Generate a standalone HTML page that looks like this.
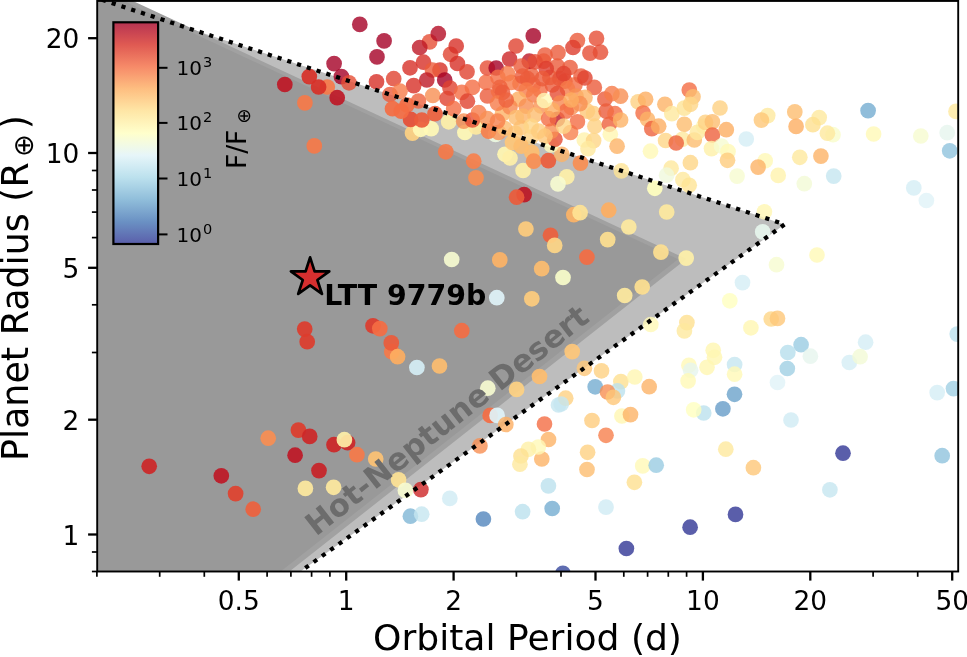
<!DOCTYPE html><html><head><meta charset="utf-8"><title>Hot-Neptune Desert</title>
<style>html,body{margin:0;padding:0;background:#fff;overflow:hidden}svg{display:block}text{font-family:"DejaVu Sans","Liberation Sans",sans-serif;fill:#000}</style></head><body>
<svg width="967" height="657" viewBox="0 0 967 657">
<defs><clipPath id="ax"><rect x="97.2" y="0.95" width="861.0" height="570.55"/></clipPath>
<linearGradient id="cb" x1="0" y1="1" x2="0" y2="0">
<stop offset="0.0" stop-color="#313695"/>
<stop offset="0.1" stop-color="#4575b4"/>
<stop offset="0.2" stop-color="#74add1"/>
<stop offset="0.3" stop-color="#abd9e9"/>
<stop offset="0.4" stop-color="#e0f3f8"/>
<stop offset="0.5" stop-color="#ffffbf"/>
<stop offset="0.6" stop-color="#fee090"/>
<stop offset="0.7" stop-color="#fdae61"/>
<stop offset="0.8" stop-color="#f46d43"/>
<stop offset="0.9" stop-color="#d73027"/>
<stop offset="1.0" stop-color="#a50026"/>
</linearGradient></defs>
<rect width="967" height="657" fill="#fff"/>
<g clip-path="url(#ax)">
<polygon points="92.2,-3.4 784.6,224.4 300.5,571.5 280.5,591.5 92.2,591.5" fill="#bdbdbd"/>
<polygon points="92.2,-18.0 686.3,258.9 289.4,571.5 269.4,591.5 92.2,591.5" fill="#a1a1a1"/>
<polygon points="92.2,-13.8 678.0,259.2 280.6,571.5 260.6,591.5 92.2,591.5" fill="#999999"/>
<g>
<circle cx="359.8" cy="24.4" r="7.85" fill="#a50026" fill-opacity="0.8"/>
<circle cx="384.1" cy="40.9" r="7.85" fill="#a50026" fill-opacity="0.8"/>
<circle cx="377.0" cy="56.9" r="7.85" fill="#a50026" fill-opacity="0.8"/>
<circle cx="334.1" cy="63.6" r="7.85" fill="#a50026" fill-opacity="0.8"/>
<circle cx="341.4" cy="76.6" r="7.85" fill="#a50026" fill-opacity="0.8"/>
<circle cx="284.8" cy="84.5" r="7.85" fill="#be1826" fill-opacity="0.92"/>
<circle cx="309.3" cy="76.6" r="7.85" fill="#d73027" fill-opacity="0.92"/>
<circle cx="327.3" cy="87.0" r="7.85" fill="#f67a49" fill-opacity="0.92"/>
<circle cx="318.6" cy="87.0" r="7.85" fill="#d73027" fill-opacity="0.92"/>
<circle cx="337.2" cy="97.7" r="7.85" fill="#be1826" fill-opacity="0.92"/>
<circle cx="304.9" cy="102.9" r="7.85" fill="#f67a49" fill-opacity="0.92"/>
<circle cx="349.0" cy="82.8" r="7.85" fill="#e64e35" fill-opacity="0.8"/>
<circle cx="376.5" cy="81.8" r="7.85" fill="#d73027" fill-opacity="0.8"/>
<circle cx="314.3" cy="145.9" r="7.85" fill="#f67a49" fill-opacity="0.92"/>
<circle cx="429.6" cy="41.9" r="7.85" fill="#e64e35" fill-opacity="0.8"/>
<circle cx="438.3" cy="33.7" r="7.85" fill="#b40e26" fill-opacity="0.8"/>
<circle cx="419.7" cy="47.5" r="7.85" fill="#be1826" fill-opacity="0.8"/>
<circle cx="450.6" cy="54.3" r="7.85" fill="#e0422f" fill-opacity="0.8"/>
<circle cx="456.2" cy="46.0" r="7.85" fill="#d73027" fill-opacity="0.8"/>
<circle cx="457.4" cy="63.5" r="7.85" fill="#d73027" fill-opacity="0.8"/>
<circle cx="467.0" cy="71.8" r="7.85" fill="#e0422f" fill-opacity="0.8"/>
<circle cx="410.0" cy="67.8" r="7.85" fill="#d73027" fill-opacity="0.8"/>
<circle cx="423.5" cy="62.2" r="7.85" fill="#d73027" fill-opacity="0.8"/>
<circle cx="440.0" cy="70.0" r="7.85" fill="#d73027" fill-opacity="0.8"/>
<circle cx="432.4" cy="70.0" r="7.85" fill="#eb5b3b" fill-opacity="0.8"/>
<circle cx="444.7" cy="80.0" r="7.85" fill="#a50026" fill-opacity="0.8"/>
<circle cx="426.8" cy="80.0" r="7.85" fill="#be1826" fill-opacity="0.8"/>
<circle cx="393.7" cy="78.7" r="7.85" fill="#e0422f" fill-opacity="0.8"/>
<circle cx="413.7" cy="85.6" r="7.85" fill="#d73027" fill-opacity="0.8"/>
<circle cx="432.8" cy="95.5" r="7.85" fill="#f88e52" fill-opacity="0.8"/>
<circle cx="450.0" cy="88.0" r="7.85" fill="#e0422f" fill-opacity="0.8"/>
<circle cx="472.4" cy="87.4" r="7.85" fill="#f46d43" fill-opacity="0.8"/>
<circle cx="486.1" cy="82.4" r="7.85" fill="#f46d43" fill-opacity="0.8"/>
<circle cx="487.4" cy="68.0" r="7.85" fill="#e64e35" fill-opacity="0.8"/>
<circle cx="496.2" cy="68.0" r="7.85" fill="#a50026" fill-opacity="0.8"/>
<circle cx="461.8" cy="92.4" r="7.85" fill="#f46d43" fill-opacity="0.8"/>
<circle cx="487.4" cy="96.0" r="7.85" fill="#eb5b3b" fill-opacity="0.8"/>
<circle cx="447.2" cy="98.5" r="7.85" fill="#e0422f" fill-opacity="0.8"/>
<circle cx="467.4" cy="101.2" r="7.85" fill="#e0422f" fill-opacity="0.8"/>
<circle cx="390.0" cy="94.5" r="7.85" fill="#eb5b3b" fill-opacity="0.8"/>
<circle cx="400.0" cy="91.2" r="7.85" fill="#f67a49" fill-opacity="0.8"/>
<circle cx="418.5" cy="101.0" r="7.85" fill="#ee613d" fill-opacity="0.8"/>
<circle cx="498.0" cy="77.4" r="7.85" fill="#f46d43" fill-opacity="0.8"/>
<circle cx="498.6" cy="91.2" r="7.85" fill="#f46d43" fill-opacity="0.8"/>
<circle cx="495.5" cy="134.5" r="7.85" fill="#ecf8e1" fill-opacity="0.92"/>
<circle cx="407.0" cy="105.0" r="7.85" fill="#f46d43" fill-opacity="0.92"/>
<circle cx="412.5" cy="133.1" r="7.85" fill="#fed182" fill-opacity="0.92"/>
<circle cx="420.6" cy="129.3" r="7.85" fill="#fff9b6" fill-opacity="0.92"/>
<circle cx="431.2" cy="128.7" r="7.85" fill="#fff9b6" fill-opacity="0.92"/>
<circle cx="448.7" cy="121.8" r="7.85" fill="#fef0a8" fill-opacity="0.92"/>
<circle cx="464.9" cy="132.5" r="7.85" fill="#fff9b6" fill-opacity="0.92"/>
<circle cx="445.8" cy="151.8" r="7.85" fill="#f67a49" fill-opacity="0.92"/>
<circle cx="473.7" cy="161.2" r="7.85" fill="#f7804c" fill-opacity="0.92"/>
<circle cx="476.0" cy="177.8" r="7.85" fill="#f88e52" fill-opacity="0.92"/>
<circle cx="410.6" cy="119.4" r="7.85" fill="#e64e35" fill-opacity="0.92"/>
<circle cx="421.8" cy="120.0" r="7.85" fill="#eb5b3b" fill-opacity="0.92"/>
<circle cx="435.0" cy="113.7" r="7.85" fill="#ee613d" fill-opacity="0.92"/>
<circle cx="392.5" cy="108.7" r="7.85" fill="#f46d43" fill-opacity="0.92"/>
<circle cx="401.2" cy="111.2" r="7.85" fill="#f46d43" fill-opacity="0.92"/>
<circle cx="453.7" cy="108.7" r="7.85" fill="#f46d43" fill-opacity="0.8"/>
<circle cx="476.0" cy="127.0" r="7.85" fill="#fee99e" fill-opacity="0.92"/>
<circle cx="463.7" cy="121.2" r="7.85" fill="#f88e52" fill-opacity="0.8"/>
<circle cx="472.4" cy="120.0" r="7.85" fill="#e64e35" fill-opacity="0.8"/>
<circle cx="478.7" cy="112.5" r="7.85" fill="#f67a49" fill-opacity="0.8"/>
<circle cx="488.6" cy="131.2" r="7.85" fill="#f7804c" fill-opacity="0.92"/>
<circle cx="487.4" cy="118.7" r="7.85" fill="#f88e52" fill-opacity="0.8"/>
<circle cx="498.6" cy="132.5" r="7.85" fill="#f88e52" fill-opacity="0.8"/>
<circle cx="531.2" cy="74.9" r="7.85" fill="#ee613d" fill-opacity="0.8"/>
<circle cx="533.1" cy="84.9" r="7.85" fill="#f46d43" fill-opacity="0.8"/>
<circle cx="520.0" cy="83.7" r="7.85" fill="#f46d43" fill-opacity="0.8"/>
<circle cx="564.9" cy="81.2" r="7.85" fill="#eb5b3b" fill-opacity="0.8"/>
<circle cx="543.7" cy="61.2" r="7.85" fill="#e85538" fill-opacity="0.8"/>
<circle cx="549.9" cy="77.4" r="7.85" fill="#eb5b3b" fill-opacity="0.8"/>
<circle cx="559.9" cy="78.7" r="7.85" fill="#e64e35" fill-opacity="0.8"/>
<circle cx="511.2" cy="82.4" r="7.85" fill="#f67a49" fill-opacity="0.8"/>
<circle cx="540.0" cy="89.9" r="7.85" fill="#f46d43" fill-opacity="0.8"/>
<circle cx="574.9" cy="84.9" r="7.85" fill="#f46d43" fill-opacity="0.8"/>
<circle cx="527.5" cy="78.7" r="7.85" fill="#eb5b3b" fill-opacity="0.8"/>
<circle cx="500.0" cy="87.4" r="7.85" fill="#ee613d" fill-opacity="0.8"/>
<circle cx="533.3" cy="35.9" r="7.85" fill="#a50026" fill-opacity="0.8"/>
<circle cx="516.0" cy="46.0" r="7.85" fill="#e0422f" fill-opacity="0.8"/>
<circle cx="509.6" cy="59.1" r="7.85" fill="#cd2627" fill-opacity="0.8"/>
<circle cx="577.4" cy="40.6" r="7.85" fill="#eb5b3b" fill-opacity="0.8"/>
<circle cx="573.0" cy="47.5" r="7.85" fill="#dd3c2d" fill-opacity="0.8"/>
<circle cx="596.5" cy="38.4" r="7.85" fill="#e64e35" fill-opacity="0.8"/>
<circle cx="600.5" cy="52.2" r="7.85" fill="#e64e35" fill-opacity="0.8"/>
<circle cx="589.9" cy="53.1" r="7.85" fill="#e64e35" fill-opacity="0.8"/>
<circle cx="558.0" cy="52.7" r="7.85" fill="#eb5b3b" fill-opacity="0.8"/>
<circle cx="545.0" cy="55.0" r="7.85" fill="#eb5b3b" fill-opacity="0.8"/>
<circle cx="529.3" cy="61.2" r="7.85" fill="#be1826" fill-opacity="0.8"/>
<circle cx="535.0" cy="61.8" r="7.85" fill="#e64e35" fill-opacity="0.8"/>
<circle cx="521.2" cy="66.2" r="7.85" fill="#eb5b3b" fill-opacity="0.8"/>
<circle cx="557.4" cy="66.2" r="7.85" fill="#eb5b3b" fill-opacity="0.8"/>
<circle cx="546.2" cy="68.7" r="7.85" fill="#dd3c2d" fill-opacity="0.8"/>
<circle cx="570.0" cy="67.5" r="7.85" fill="#eb5b3b" fill-opacity="0.8"/>
<circle cx="563.7" cy="73.7" r="7.85" fill="#e0422f" fill-opacity="0.8"/>
<circle cx="581.0" cy="76.0" r="7.85" fill="#eb5b3b" fill-opacity="0.8"/>
<circle cx="584.9" cy="78.0" r="7.85" fill="#e0422f" fill-opacity="0.8"/>
<circle cx="594.3" cy="87.4" r="7.85" fill="#eb5b3b" fill-opacity="0.8"/>
<circle cx="507.5" cy="73.7" r="7.85" fill="#f67a49" fill-opacity="0.8"/>
<circle cx="522.5" cy="76.2" r="7.85" fill="#eb5b3b" fill-opacity="0.8"/>
<circle cx="542.4" cy="78.7" r="7.85" fill="#eb5b3b" fill-opacity="0.8"/>
<circle cx="552.4" cy="85.0" r="7.85" fill="#eb5b3b" fill-opacity="0.8"/>
<circle cx="567.4" cy="88.7" r="7.85" fill="#f67a49" fill-opacity="0.8"/>
<circle cx="526.2" cy="90.0" r="7.85" fill="#f67a49" fill-opacity="0.8"/>
<circle cx="502.5" cy="92.4" r="7.85" fill="#eb5b3b" fill-opacity="0.8"/>
<circle cx="518.7" cy="99.0" r="7.85" fill="#fdae61" fill-opacity="0.8"/>
<circle cx="557.4" cy="93.7" r="7.85" fill="#e64e35" fill-opacity="0.8"/>
<circle cx="576.0" cy="96.0" r="7.85" fill="#f88e52" fill-opacity="0.8"/>
<circle cx="585.0" cy="97.4" r="7.85" fill="#fdb366" fill-opacity="0.8"/>
<circle cx="604.9" cy="99.0" r="7.85" fill="#eb5b3b" fill-opacity="0.8"/>
<circle cx="533.7" cy="95.0" r="7.85" fill="#f67a49" fill-opacity="0.8"/>
<circle cx="502.5" cy="113.7" r="7.85" fill="#fdb366" fill-opacity="0.8"/>
<circle cx="521.2" cy="127.5" r="7.85" fill="#fec778" fill-opacity="0.8"/>
<circle cx="526.2" cy="106.2" r="7.85" fill="#f88e52" fill-opacity="0.8"/>
<circle cx="515.0" cy="133.0" r="7.85" fill="#fec778" fill-opacity="0.8"/>
<circle cx="531.2" cy="137.0" r="7.85" fill="#fed182" fill-opacity="0.8"/>
<circle cx="571.2" cy="107.5" r="7.85" fill="#f88e52" fill-opacity="0.8"/>
<circle cx="587.4" cy="111.2" r="7.85" fill="#fec778" fill-opacity="0.8"/>
<circle cx="510.0" cy="107.0" r="7.85" fill="#f8874f" fill-opacity="0.8"/>
<circle cx="541.0" cy="106.0" r="7.85" fill="#f99455" fill-opacity="0.8"/>
<circle cx="560.0" cy="103.0" r="7.85" fill="#f8874f" fill-opacity="0.8"/>
<circle cx="523.0" cy="116.0" r="7.85" fill="#fdb366" fill-opacity="0.8"/>
<circle cx="505.0" cy="154.3" r="7.85" fill="#fff6b1" fill-opacity="0.92"/>
<circle cx="510.0" cy="158.0" r="7.85" fill="#fef0a8" fill-opacity="0.92"/>
<circle cx="523.1" cy="170.5" r="7.85" fill="#fef0a8" fill-opacity="0.92"/>
<circle cx="531.8" cy="152.4" r="7.85" fill="#fdbd6f" fill-opacity="0.92"/>
<circle cx="533.7" cy="161.2" r="7.85" fill="#f88e52" fill-opacity="0.92"/>
<circle cx="548.4" cy="160.6" r="7.85" fill="#eb5b3b" fill-opacity="0.92"/>
<circle cx="561.8" cy="154.3" r="7.85" fill="#fdb366" fill-opacity="0.8"/>
<circle cx="580.5" cy="163.1" r="7.85" fill="#f88e52" fill-opacity="0.92"/>
<circle cx="566.8" cy="176.8" r="7.85" fill="#fef0a8" fill-opacity="0.92"/>
<circle cx="551.2" cy="145.0" r="7.85" fill="#fff9b6" fill-opacity="0.8"/>
<circle cx="554.9" cy="139.3" r="7.85" fill="#e64e35" fill-opacity="0.8"/>
<circle cx="557.4" cy="119.3" r="7.85" fill="#be1826" fill-opacity="0.8"/>
<circle cx="570.5" cy="132.5" r="7.85" fill="#f7804c" fill-opacity="0.8"/>
<circle cx="577.4" cy="121.8" r="7.85" fill="#f46d43" fill-opacity="0.8"/>
<circle cx="566.2" cy="111.2" r="7.85" fill="#f46d43" fill-opacity="0.8"/>
<circle cx="551.2" cy="131.2" r="7.85" fill="#f88e52" fill-opacity="0.8"/>
<circle cx="535.0" cy="115.0" r="7.85" fill="#fdbd6f" fill-opacity="0.8"/>
<circle cx="531.2" cy="126.2" r="7.85" fill="#fed687" fill-opacity="0.8"/>
<circle cx="538.7" cy="131.2" r="7.85" fill="#fecc7d" fill-opacity="0.8"/>
<circle cx="516.2" cy="117.5" r="7.85" fill="#fdbd6f" fill-opacity="0.8"/>
<circle cx="505.0" cy="128.7" r="7.85" fill="#fdbd6f" fill-opacity="0.8"/>
<circle cx="497.5" cy="121.2" r="7.85" fill="#f7804c" fill-opacity="0.8"/>
<circle cx="497.5" cy="103.2" r="7.85" fill="#f67a49" fill-opacity="0.8"/>
<circle cx="506.2" cy="100.0" r="7.85" fill="#ee613d" fill-opacity="0.8"/>
<circle cx="512.5" cy="142.5" r="7.85" fill="#fec778" fill-opacity="0.92"/>
<circle cx="521.2" cy="146.2" r="7.85" fill="#fdbd6f" fill-opacity="0.92"/>
<circle cx="593.6" cy="113.7" r="7.85" fill="#fecc7d" fill-opacity="0.8"/>
<circle cx="594.9" cy="126.2" r="7.85" fill="#fed182" fill-opacity="0.8"/>
<circle cx="584.3" cy="140.0" r="7.85" fill="#fff3ac" fill-opacity="0.8"/>
<circle cx="593.6" cy="140.6" r="7.85" fill="#fed687" fill-opacity="0.8"/>
<circle cx="588.0" cy="148.7" r="7.85" fill="#fee99e" fill-opacity="0.8"/>
<circle cx="579.9" cy="103.7" r="7.85" fill="#f88e52" fill-opacity="0.8"/>
<circle cx="571.2" cy="100.0" r="7.85" fill="#fdae61" fill-opacity="0.8"/>
<circle cx="548.7" cy="118.7" r="7.85" fill="#f46d43" fill-opacity="0.8"/>
<circle cx="552.4" cy="110.0" r="7.85" fill="#fdae61" fill-opacity="0.8"/>
<circle cx="545.0" cy="136.2" r="7.85" fill="#fec778" fill-opacity="0.8"/>
<circle cx="563.7" cy="126.2" r="7.85" fill="#fed687" fill-opacity="0.8"/>
<circle cx="544.3" cy="100.5" r="7.85" fill="#fff9b6" fill-opacity="0.8"/>
<circle cx="611.9" cy="93.7" r="7.85" fill="#f67a49" fill-opacity="0.8"/>
<circle cx="620.6" cy="96.2" r="7.85" fill="#f88e52" fill-opacity="0.8"/>
<circle cx="606.2" cy="111.2" r="7.85" fill="#eb5b3b" fill-opacity="0.8"/>
<circle cx="615.0" cy="113.7" r="7.85" fill="#f46d43" fill-opacity="0.8"/>
<circle cx="609.4" cy="124.3" r="7.85" fill="#ee613d" fill-opacity="0.8"/>
<circle cx="620.6" cy="120.0" r="7.85" fill="#fdb366" fill-opacity="0.8"/>
<circle cx="610.3" cy="134.2" r="7.85" fill="#fff6b1" fill-opacity="0.8"/>
<circle cx="617.1" cy="146.2" r="7.85" fill="#fdb366" fill-opacity="0.8"/>
<circle cx="638.1" cy="101.8" r="7.85" fill="#fed182" fill-opacity="0.8"/>
<circle cx="645.6" cy="99.3" r="7.85" fill="#fdae61" fill-opacity="0.8"/>
<circle cx="643.1" cy="113.1" r="7.85" fill="#f46d43" fill-opacity="0.8"/>
<circle cx="647.5" cy="119.3" r="7.85" fill="#fdb366" fill-opacity="0.8"/>
<circle cx="651.8" cy="128.7" r="7.85" fill="#ee613d" fill-opacity="0.8"/>
<circle cx="658.7" cy="126.2" r="7.85" fill="#fdae61" fill-opacity="0.8"/>
<circle cx="664.9" cy="104.3" r="7.85" fill="#fdb366" fill-opacity="0.8"/>
<circle cx="671.8" cy="113.7" r="7.85" fill="#fee99e" fill-opacity="0.8"/>
<circle cx="689.3" cy="90.0" r="7.85" fill="#f46d43" fill-opacity="0.8"/>
<circle cx="693.0" cy="96.8" r="7.85" fill="#fdbd6f" fill-opacity="0.8"/>
<circle cx="684.3" cy="108.1" r="7.85" fill="#fee395" fill-opacity="0.8"/>
<circle cx="690.5" cy="104.3" r="7.85" fill="#fed687" fill-opacity="0.8"/>
<circle cx="684.3" cy="124.3" r="7.85" fill="#fdbd6f" fill-opacity="0.8"/>
<circle cx="665.6" cy="140.5" r="7.85" fill="#fed687" fill-opacity="0.8"/>
<circle cx="682.4" cy="139.3" r="7.85" fill="#fee99e" fill-opacity="0.8"/>
<circle cx="676.2" cy="143.0" r="7.85" fill="#ee613d" fill-opacity="0.8"/>
<circle cx="694.3" cy="140.0" r="7.85" fill="#fdbd6f" fill-opacity="0.8"/>
<circle cx="703.6" cy="126.2" r="7.85" fill="#fff9b6" fill-opacity="0.8"/>
<circle cx="697.4" cy="132.4" r="7.85" fill="#fee99e" fill-opacity="0.8"/>
<circle cx="705.5" cy="122.4" r="7.85" fill="#fed182" fill-opacity="0.8"/>
<circle cx="712.4" cy="121.8" r="7.85" fill="#fdbd6f" fill-opacity="0.8"/>
<circle cx="712.4" cy="135.0" r="7.85" fill="#ee613d" fill-opacity="0.8"/>
<circle cx="720.0" cy="108.0" r="7.85" fill="#fed182" fill-opacity="0.8"/>
<circle cx="650.5" cy="151.2" r="7.85" fill="#fff9b6" fill-opacity="0.8"/>
<circle cx="711.5" cy="148.6" r="7.85" fill="#fef0a8" fill-opacity="0.8"/>
<circle cx="721.5" cy="146.0" r="7.85" fill="#f6fbd0" fill-opacity="0.8"/>
<circle cx="868.1" cy="110.6" r="7.85" fill="#74add1" fill-opacity="0.8"/>
<circle cx="873.6" cy="134.0" r="7.85" fill="#fff9b6" fill-opacity="0.8"/>
<circle cx="920.8" cy="136.0" r="7.85" fill="#f6fbd0" fill-opacity="0.8"/>
<circle cx="947.2" cy="132.7" r="7.85" fill="#e6f5ed" fill-opacity="0.8"/>
<circle cx="949.7" cy="150.8" r="7.85" fill="#90c3dd" fill-opacity="0.8"/>
<circle cx="956.0" cy="111.4" r="7.85" fill="#fee99e" fill-opacity="0.8"/>
<circle cx="913.8" cy="187.9" r="7.85" fill="#d5eef5" fill-opacity="0.8"/>
<circle cx="926.4" cy="200.5" r="7.85" fill="#e0f3f8" fill-opacity="0.8"/>
<circle cx="794.8" cy="111.9" r="7.85" fill="#fdbd6f" fill-opacity="0.8"/>
<circle cx="796.1" cy="126.4" r="7.85" fill="#fdae61" fill-opacity="0.8"/>
<circle cx="819.2" cy="117.6" r="7.85" fill="#fee99e" fill-opacity="0.8"/>
<circle cx="812.9" cy="124.7" r="7.85" fill="#fee090" fill-opacity="0.8"/>
<circle cx="833.0" cy="134.7" r="7.85" fill="#f9fdca" fill-opacity="0.8"/>
<circle cx="827.4" cy="133.2" r="7.85" fill="#fee99e" fill-opacity="0.8"/>
<circle cx="767.7" cy="115.6" r="7.85" fill="#fee99e" fill-opacity="0.8"/>
<circle cx="761.4" cy="120.1" r="7.85" fill="#fec778" fill-opacity="0.8"/>
<circle cx="746.3" cy="139.0" r="7.85" fill="#d5eef5" fill-opacity="0.8"/>
<circle cx="726.3" cy="129.7" r="7.85" fill="#fdae61" fill-opacity="0.8"/>
<circle cx="728.0" cy="151.5" r="7.85" fill="#fff9b6" fill-opacity="0.8"/>
<circle cx="727.5" cy="160.3" r="7.85" fill="#fecc7d" fill-opacity="0.8"/>
<circle cx="765.2" cy="160.8" r="7.85" fill="#fff9b6" fill-opacity="0.8"/>
<circle cx="758.1" cy="167.1" r="7.85" fill="#fdb366" fill-opacity="0.8"/>
<circle cx="737.1" cy="176.1" r="7.85" fill="#f6fbd0" fill-opacity="0.8"/>
<circle cx="778.2" cy="175.4" r="7.85" fill="#fff3ac" fill-opacity="0.8"/>
<circle cx="799.8" cy="157.3" r="7.85" fill="#fee99e" fill-opacity="0.8"/>
<circle cx="820.9" cy="156.1" r="7.85" fill="#fdb366" fill-opacity="0.8"/>
<circle cx="804.3" cy="183.7" r="7.85" fill="#f3fad6" fill-opacity="0.8"/>
<circle cx="833.7" cy="176.1" r="7.85" fill="#c6e6f0" fill-opacity="0.8"/>
<circle cx="764.4" cy="211.8" r="7.85" fill="#fff6b1" fill-opacity="0.8"/>
<circle cx="762.7" cy="231.9" r="7.85" fill="#e6f5ed" fill-opacity="0.92"/>
<circle cx="817.0" cy="255.0" r="7.85" fill="#fff9b6" fill-opacity="0.8"/>
<circle cx="690.4" cy="162.7" r="7.85" fill="#fed687" fill-opacity="0.8"/>
<circle cx="682.9" cy="179.7" r="7.85" fill="#fee99e" fill-opacity="0.8"/>
<circle cx="689.2" cy="185.3" r="7.85" fill="#fee395" fill-opacity="0.8"/>
<circle cx="671.1" cy="168.2" r="7.85" fill="#fee99e" fill-opacity="0.8"/>
<circle cx="666.6" cy="175.2" r="7.85" fill="#f0f9dc" fill-opacity="0.8"/>
<circle cx="654.8" cy="188.3" r="7.85" fill="#ffffbf" fill-opacity="0.92"/>
<circle cx="621.4" cy="170.9" r="7.85" fill="#fee395" fill-opacity="0.8"/>
<circle cx="558.0" cy="183.9" r="7.85" fill="#f6fbd0" fill-opacity="0.92"/>
<circle cx="524.1" cy="194.6" r="7.85" fill="#be1826" fill-opacity="0.92"/>
<circle cx="516.6" cy="197.2" r="7.85" fill="#eb5b3b" fill-opacity="0.92"/>
<circle cx="573.8" cy="214.7" r="7.85" fill="#fdb366" fill-opacity="0.92"/>
<circle cx="580.1" cy="212.7" r="7.85" fill="#fee395" fill-opacity="0.92"/>
<circle cx="608.7" cy="210.2" r="7.85" fill="#fdae61" fill-opacity="0.92"/>
<circle cx="628.8" cy="227.0" r="7.85" fill="#fee99e" fill-opacity="0.92"/>
<circle cx="607.7" cy="239.6" r="7.85" fill="#fee090" fill-opacity="0.92"/>
<circle cx="660.9" cy="252.1" r="7.85" fill="#fee090" fill-opacity="0.92"/>
<circle cx="686.2" cy="258.1" r="7.85" fill="#fef0a8" fill-opacity="0.92"/>
<circle cx="666.7" cy="212.0" r="7.85" fill="#fee99e" fill-opacity="0.92"/>
<circle cx="525.9" cy="229.0" r="7.85" fill="#fecc7d" fill-opacity="0.92"/>
<circle cx="550.5" cy="235.3" r="7.85" fill="#ee613d" fill-opacity="0.92"/>
<circle cx="554.7" cy="245.4" r="7.85" fill="#fed687" fill-opacity="0.92"/>
<circle cx="586.9" cy="257.2" r="7.85" fill="#f46d43" fill-opacity="0.92"/>
<circle cx="499.8" cy="259.9" r="7.85" fill="#fdb366" fill-opacity="0.92"/>
<circle cx="451.7" cy="259.5" r="7.85" fill="#f6fbd0" fill-opacity="0.92"/>
<circle cx="541.7" cy="268.7" r="7.85" fill="#fdbd6f" fill-opacity="0.92"/>
<circle cx="563.0" cy="277.5" r="7.85" fill="#f9fdca" fill-opacity="0.92"/>
<circle cx="496.8" cy="297.7" r="7.85" fill="#e0f3f8" fill-opacity="0.92"/>
<circle cx="531.8" cy="298.8" r="7.85" fill="#fecc7d" fill-opacity="0.92"/>
<circle cx="624.7" cy="295.5" r="7.85" fill="#fee99e" fill-opacity="0.92"/>
<circle cx="642.2" cy="287.0" r="7.85" fill="#fee090" fill-opacity="0.92"/>
<circle cx="650.8" cy="324.5" r="7.85" fill="#fff9b6" fill-opacity="0.8"/>
<circle cx="304.7" cy="329.1" r="7.85" fill="#dd3c2d" fill-opacity="0.92"/>
<circle cx="307.2" cy="341.7" r="7.85" fill="#dd3c2d" fill-opacity="0.92"/>
<circle cx="373.0" cy="325.8" r="7.85" fill="#dd3c2d" fill-opacity="0.92"/>
<circle cx="379.8" cy="328.6" r="7.85" fill="#f46d43" fill-opacity="0.92"/>
<circle cx="391.8" cy="351.7" r="7.85" fill="#f67a49" fill-opacity="0.92"/>
<circle cx="391.3" cy="342.9" r="7.85" fill="#eb5b3b" fill-opacity="0.92"/>
<circle cx="397.6" cy="356.7" r="7.85" fill="#fdae61" fill-opacity="0.92"/>
<circle cx="416.9" cy="367.5" r="7.85" fill="#d5eef5" fill-opacity="0.92"/>
<circle cx="439.5" cy="366.0" r="7.85" fill="#fdbd6f" fill-opacity="0.92"/>
<circle cx="461.8" cy="330.7" r="7.85" fill="#f46d43" fill-opacity="0.92"/>
<circle cx="487.8" cy="388.2" r="7.85" fill="#f6fbd0" fill-opacity="0.92"/>
<circle cx="516.6" cy="389.4" r="7.85" fill="#fed182" fill-opacity="0.92"/>
<circle cx="149.2" cy="466.3" r="7.85" fill="#cd2627" fill-opacity="0.92"/>
<circle cx="221.3" cy="475.8" r="7.85" fill="#be1826" fill-opacity="0.92"/>
<circle cx="235.6" cy="493.6" r="7.85" fill="#e0422f" fill-opacity="0.92"/>
<circle cx="253.2" cy="509.2" r="7.85" fill="#ee613d" fill-opacity="0.92"/>
<circle cx="268.2" cy="438.2" r="7.85" fill="#f88e52" fill-opacity="0.92"/>
<circle cx="298.4" cy="430.1" r="7.85" fill="#dd3c2d" fill-opacity="0.92"/>
<circle cx="309.7" cy="436.4" r="7.85" fill="#cd2627" fill-opacity="0.92"/>
<circle cx="295.1" cy="455.2" r="7.85" fill="#be1826" fill-opacity="0.92"/>
<circle cx="334.0" cy="444.7" r="7.85" fill="#cd2627" fill-opacity="0.92"/>
<circle cx="319.0" cy="470.6" r="7.85" fill="#c82227" fill-opacity="0.92"/>
<circle cx="305.4" cy="488.4" r="7.85" fill="#fee99e" fill-opacity="0.92"/>
<circle cx="333.6" cy="487.3" r="7.85" fill="#fee99e" fill-opacity="0.92"/>
<circle cx="347.6" cy="442.7" r="7.85" fill="#cd2627" fill-opacity="0.92"/>
<circle cx="344.4" cy="439.7" r="7.85" fill="#fef0a8" fill-opacity="0.92"/>
<circle cx="356.9" cy="454.7" r="7.85" fill="#f67a49" fill-opacity="0.92"/>
<circle cx="375.7" cy="459.0" r="7.85" fill="#fdc274" fill-opacity="0.92"/>
<circle cx="398.6" cy="479.8" r="7.85" fill="#fee395" fill-opacity="0.92"/>
<circle cx="405.4" cy="490.4" r="7.85" fill="#f6fbd0" fill-opacity="0.92"/>
<circle cx="420.9" cy="489.6" r="7.85" fill="#cd2627" fill-opacity="0.8"/>
<circle cx="410.4" cy="516.2" r="7.85" fill="#7fb6d6" fill-opacity="0.8"/>
<circle cx="421.7" cy="514.2" r="7.85" fill="#c6e6f0" fill-opacity="0.8"/>
<circle cx="449.8" cy="498.4" r="7.85" fill="#d0ebf4" fill-opacity="0.8"/>
<circle cx="483.4" cy="519.0" r="7.85" fill="#5386bd" fill-opacity="0.8"/>
<circle cx="522.6" cy="511.7" r="7.85" fill="#bbe1ee" fill-opacity="0.8"/>
<circle cx="552.2" cy="508.5" r="7.85" fill="#74add1" fill-opacity="0.8"/>
<circle cx="548.4" cy="485.9" r="7.85" fill="#bbe1ee" fill-opacity="0.8"/>
<circle cx="490.2" cy="415.4" r="7.85" fill="#f46d43" fill-opacity="0.92"/>
<circle cx="497.1" cy="415.4" r="7.85" fill="#e0f3f8" fill-opacity="0.92"/>
<circle cx="505.8" cy="424.5" r="7.85" fill="#fdae61" fill-opacity="0.8"/>
<circle cx="479.9" cy="445.9" r="7.85" fill="#f88e52" fill-opacity="0.8"/>
<circle cx="544.5" cy="424.0" r="7.85" fill="#f46d43" fill-opacity="0.8"/>
<circle cx="548.5" cy="439.5" r="7.85" fill="#fdb366" fill-opacity="0.8"/>
<circle cx="541.8" cy="459.0" r="7.85" fill="#fdb366" fill-opacity="0.8"/>
<circle cx="538.3" cy="447.0" r="7.85" fill="#fff9b6" fill-opacity="0.8"/>
<circle cx="528.4" cy="449.3" r="7.85" fill="#fef0a8" fill-opacity="0.8"/>
<circle cx="520.9" cy="456.0" r="7.85" fill="#fee090" fill-opacity="0.8"/>
<circle cx="519.9" cy="464.2" r="7.85" fill="#fee99e" fill-opacity="0.8"/>
<circle cx="558.5" cy="405.0" r="7.85" fill="#c6e6f0" fill-opacity="0.8"/>
<circle cx="572.2" cy="351.6" r="7.85" fill="#fec778" fill-opacity="0.92"/>
<circle cx="584.4" cy="368.3" r="7.85" fill="#fec778" fill-opacity="0.8"/>
<circle cx="539.5" cy="376.5" r="7.85" fill="#fdbd6f" fill-opacity="0.92"/>
<circle cx="601.5" cy="370.8" r="7.85" fill="#fed182" fill-opacity="0.8"/>
<circle cx="595.2" cy="386.8" r="7.85" fill="#74add1" fill-opacity="0.8"/>
<circle cx="620.9" cy="381.6" r="7.85" fill="#fee090" fill-opacity="0.8"/>
<circle cx="634.8" cy="377.0" r="7.85" fill="#fff6b1" fill-opacity="0.8"/>
<circle cx="649.2" cy="386.7" r="7.85" fill="#fdb366" fill-opacity="0.8"/>
<circle cx="617.4" cy="390.9" r="7.85" fill="#bbe1ee" fill-opacity="0.8"/>
<circle cx="607.5" cy="392.0" r="7.85" fill="#f88e52" fill-opacity="0.8"/>
<circle cx="613.4" cy="397.3" r="7.85" fill="#fec778" fill-opacity="0.8"/>
<circle cx="565.7" cy="398.2" r="7.85" fill="#fed182" fill-opacity="0.8"/>
<circle cx="561.2" cy="404.0" r="7.85" fill="#c6e6f0" fill-opacity="0.8"/>
<circle cx="592.0" cy="420.5" r="7.85" fill="#fecc7d" fill-opacity="0.8"/>
<circle cx="606.0" cy="435.3" r="7.85" fill="#f7804c" fill-opacity="0.8"/>
<circle cx="621.9" cy="416.0" r="7.85" fill="#fff6b1" fill-opacity="0.8"/>
<circle cx="630.5" cy="414.6" r="7.85" fill="#fdb366" fill-opacity="0.8"/>
<circle cx="587.6" cy="452.3" r="7.85" fill="#fed182" fill-opacity="0.8"/>
<circle cx="686.9" cy="322.6" r="7.85" fill="#fee090" fill-opacity="0.8"/>
<circle cx="684.4" cy="330.9" r="7.85" fill="#fee99e" fill-opacity="0.8"/>
<circle cx="729.8" cy="300.8" r="7.85" fill="#ffffbf" fill-opacity="0.8"/>
<circle cx="750.9" cy="327.8" r="7.85" fill="#fff6b1" fill-opacity="0.8"/>
<circle cx="771.2" cy="319.0" r="7.85" fill="#fed687" fill-opacity="0.8"/>
<circle cx="777.5" cy="318.4" r="7.85" fill="#fec778" fill-opacity="0.8"/>
<circle cx="713.2" cy="350.3" r="7.85" fill="#fff6b1" fill-opacity="0.8"/>
<circle cx="714.5" cy="357.3" r="7.85" fill="#fff6b1" fill-opacity="0.8"/>
<circle cx="707.0" cy="367.3" r="7.85" fill="#fff6b1" fill-opacity="0.8"/>
<circle cx="688.9" cy="365.3" r="7.85" fill="#fff9b6" fill-opacity="0.8"/>
<circle cx="690.6" cy="370.3" r="7.85" fill="#e6f5ed" fill-opacity="0.8"/>
<circle cx="688.1" cy="380.9" r="7.85" fill="#fff9b6" fill-opacity="0.8"/>
<circle cx="734.6" cy="364.5" r="7.85" fill="#c6e6f0" fill-opacity="0.8"/>
<circle cx="734.6" cy="374.2" r="7.85" fill="#fff9b6" fill-opacity="0.8"/>
<circle cx="734.5" cy="394.3" r="7.85" fill="#6ba2cb" fill-opacity="0.8"/>
<circle cx="722.9" cy="408.8" r="7.85" fill="#669cc8" fill-opacity="0.8"/>
<circle cx="703.7" cy="413.0" r="7.85" fill="#bbe1ee" fill-opacity="0.8"/>
<circle cx="693.7" cy="409.8" r="7.85" fill="#ffffbf" fill-opacity="0.8"/>
<circle cx="725.8" cy="449.2" r="7.85" fill="#fee99e" fill-opacity="0.8"/>
<circle cx="777.5" cy="382.5" r="7.85" fill="#e0f3f8" fill-opacity="0.8"/>
<circle cx="587.0" cy="469.5" r="7.85" fill="#fdbd6f" fill-opacity="0.8"/>
<circle cx="642.7" cy="465.9" r="7.85" fill="#fff9b6" fill-opacity="0.8"/>
<circle cx="656.2" cy="465.2" r="7.85" fill="#9acce2" fill-opacity="0.8"/>
<circle cx="634.4" cy="482.3" r="7.85" fill="#fee090" fill-opacity="0.8"/>
<circle cx="606.0" cy="507.1" r="7.85" fill="#d0ebf4" fill-opacity="0.8"/>
<circle cx="626.4" cy="548.5" r="7.85" fill="#313695" fill-opacity="0.8"/>
<circle cx="690.1" cy="527.2" r="7.85" fill="#313695" fill-opacity="0.8"/>
<circle cx="562.9" cy="573.4" r="7.85" fill="#37499e" fill-opacity="0.8"/>
<circle cx="791.0" cy="420.0" r="7.85" fill="#d0ebf4" fill-opacity="0.8"/>
<circle cx="753.4" cy="467.7" r="7.85" fill="#fec778" fill-opacity="0.8"/>
<circle cx="843.0" cy="453.2" r="7.85" fill="#313695" fill-opacity="0.8"/>
<circle cx="942.2" cy="455.7" r="7.85" fill="#90c3dd" fill-opacity="0.8"/>
<circle cx="829.9" cy="489.8" r="7.85" fill="#c6e6f0" fill-opacity="0.8"/>
<circle cx="735.5" cy="514.4" r="7.85" fill="#313695" fill-opacity="0.8"/>
<circle cx="776.5" cy="264.7" r="7.85" fill="#f6fbd0" fill-opacity="0.8"/>
<circle cx="742.5" cy="282.6" r="7.85" fill="#d5eef5" fill-opacity="0.8"/>
<circle cx="801.1" cy="344.7" r="7.85" fill="#9acce2" fill-opacity="0.8"/>
<circle cx="787.8" cy="352.5" r="7.85" fill="#b6deec" fill-opacity="0.8"/>
<circle cx="810.4" cy="356.2" r="7.85" fill="#e6f5ed" fill-opacity="0.8"/>
<circle cx="787.3" cy="368.5" r="7.85" fill="#a0d0e4" fill-opacity="0.8"/>
<circle cx="865.6" cy="342.2" r="7.85" fill="#d5eef5" fill-opacity="0.8"/>
<circle cx="849.3" cy="362.5" r="7.85" fill="#d5eef5" fill-opacity="0.8"/>
<circle cx="860.1" cy="356.7" r="7.85" fill="#f3fad6" fill-opacity="0.8"/>
<circle cx="937.2" cy="392.6" r="7.85" fill="#d5eef5" fill-opacity="0.8"/>
<circle cx="953.5" cy="388.6" r="7.85" fill="#a0d0e4" fill-opacity="0.8"/>
<circle cx="957.2" cy="334.1" r="7.85" fill="#bbe1ee" fill-opacity="0.8"/>
</g>
<text transform="translate(315.9,536.7) rotate(-38.2)" font-size="30.9" font-weight="bold" style="fill:#6c6c6c">Hot-Neptune Desert</text>
<path d="M97.2,-1.8 L784.6,224.4 L300.5,571.5" fill="none" stroke="#000" stroke-width="4.2" stroke-dasharray="4.2 6.07" stroke-dashoffset="5.3"/>
<polygon points="310.1,257.4 314.6,271.4 329.3,271.4 317.4,280.0 322.0,293.9 310.1,285.3 298.2,293.9 302.8,280.0 290.9,271.4 305.6,271.4" fill="#d62f2f" stroke="#000" stroke-width="2.7" stroke-linejoin="round"/>
<text x="324.3" y="304.6" font-size="28.4" font-weight="bold">LTT 9779b</text>
</g>
<rect x="113.4" y="22.3" width="44.7" height="221.7" fill="#fff"/>
<rect x="113.4" y="22.3" width="44.7" height="221.7" fill="url(#cb)" fill-opacity="0.8"/>
<rect x="113.4" y="22.3" width="44.7" height="221.7" fill="none" stroke="#000" stroke-width="2.2"/>
<line x1="158.1" x2="167.5" y1="234.4" y2="234.4" stroke="#000" stroke-width="2"/>
<text x="176.5" y="241.9" font-size="20">10<tspan dy="-8" dx="1" font-size="14.5">0</tspan></text>
<line x1="158.1" x2="167.5" y1="178.5" y2="178.5" stroke="#000" stroke-width="2"/>
<text x="176.5" y="186.0" font-size="20">10<tspan dy="-8" dx="1" font-size="14.5">1</tspan></text>
<line x1="158.1" x2="167.5" y1="122.9" y2="122.9" stroke="#000" stroke-width="2"/>
<text x="176.5" y="130.4" font-size="20">10<tspan dy="-8" dx="1" font-size="14.5">2</tspan></text>
<line x1="158.1" x2="167.5" y1="67.8" y2="67.8" stroke="#000" stroke-width="2"/>
<text x="176.5" y="75.3" font-size="20">10<tspan dy="-8" dx="1" font-size="14.5">3</tspan></text>
<text transform="translate(246,169) rotate(-90)" font-size="26.4">F/F<tspan dy="4" dx="6" font-size="18.5">⊕</tspan></text>
<rect x="97.2" y="0.95" width="861.0" height="570.55" fill="none" stroke="#000" stroke-width="1.9"/>
<line x1="238.8" x2="238.8" y1="571.5" y2="580.6" stroke="#000" stroke-width="2.3"/>
<text x="238.8" y="609.5" font-size="26.4" text-anchor="middle">0.5</text>
<line x1="346.2" x2="346.2" y1="571.5" y2="580.6" stroke="#000" stroke-width="2.3"/>
<text x="346.2" y="609.5" font-size="26.4" text-anchor="middle">1</text>
<line x1="453.6" x2="453.6" y1="571.5" y2="580.6" stroke="#000" stroke-width="2.3"/>
<text x="453.6" y="609.5" font-size="26.4" text-anchor="middle">2</text>
<line x1="595.5" x2="595.5" y1="571.5" y2="580.6" stroke="#000" stroke-width="2.3"/>
<text x="595.5" y="609.5" font-size="26.4" text-anchor="middle">5</text>
<line x1="702.9" x2="702.9" y1="571.5" y2="580.6" stroke="#000" stroke-width="2.3"/>
<text x="702.9" y="609.5" font-size="26.4" text-anchor="middle">10</text>
<line x1="810.3" x2="810.3" y1="571.5" y2="580.6" stroke="#000" stroke-width="2.3"/>
<text x="810.3" y="609.5" font-size="26.4" text-anchor="middle">20</text>
<line x1="952.2" x2="952.2" y1="571.5" y2="580.6" stroke="#000" stroke-width="2.3"/>
<text x="952.2" y="609.5" font-size="26.4" text-anchor="middle">50</text>
<line x1="96.9" x2="96.9" y1="571.5" y2="576.8" stroke="#000" stroke-width="1.7"/>
<line x1="159.7" x2="159.7" y1="571.5" y2="576.8" stroke="#000" stroke-width="1.7"/>
<line x1="204.3" x2="204.3" y1="571.5" y2="576.8" stroke="#000" stroke-width="1.7"/>
<line x1="267.1" x2="267.1" y1="571.5" y2="576.8" stroke="#000" stroke-width="1.7"/>
<line x1="290.9" x2="290.9" y1="571.5" y2="576.8" stroke="#000" stroke-width="1.7"/>
<line x1="311.6" x2="311.6" y1="571.5" y2="576.8" stroke="#000" stroke-width="1.7"/>
<line x1="329.9" x2="329.9" y1="571.5" y2="576.8" stroke="#000" stroke-width="1.7"/>
<line x1="516.4" x2="516.4" y1="571.5" y2="576.8" stroke="#000" stroke-width="1.7"/>
<line x1="561.0" x2="561.0" y1="571.5" y2="576.8" stroke="#000" stroke-width="1.7"/>
<line x1="623.8" x2="623.8" y1="571.5" y2="576.8" stroke="#000" stroke-width="1.7"/>
<line x1="647.6" x2="647.6" y1="571.5" y2="576.8" stroke="#000" stroke-width="1.7"/>
<line x1="668.3" x2="668.3" y1="571.5" y2="576.8" stroke="#000" stroke-width="1.7"/>
<line x1="686.6" x2="686.6" y1="571.5" y2="576.8" stroke="#000" stroke-width="1.7"/>
<line x1="873.1" x2="873.1" y1="571.5" y2="576.8" stroke="#000" stroke-width="1.7"/>
<line x1="917.7" x2="917.7" y1="571.5" y2="576.8" stroke="#000" stroke-width="1.7"/>
<line x1="88.10000000000001" x2="97.2" y1="534.5" y2="534.5" stroke="#000" stroke-width="2.3"/>
<text x="79.3" y="544.6" font-size="26.4" text-anchor="end">1</text>
<line x1="88.10000000000001" x2="97.2" y1="419.7" y2="419.7" stroke="#000" stroke-width="2.3"/>
<text x="79.3" y="429.8" font-size="26.4" text-anchor="end">2</text>
<line x1="88.10000000000001" x2="97.2" y1="267.8" y2="267.8" stroke="#000" stroke-width="2.3"/>
<text x="79.3" y="277.9" font-size="26.4" text-anchor="end">5</text>
<line x1="88.10000000000001" x2="97.2" y1="153.0" y2="153.0" stroke="#000" stroke-width="2.3"/>
<text x="79.3" y="163.1" font-size="26.4" text-anchor="end">10</text>
<line x1="88.10000000000001" x2="97.2" y1="38.2" y2="38.2" stroke="#000" stroke-width="2.3"/>
<text x="79.3" y="48.3" font-size="26.4" text-anchor="end">20</text>
<line x1="91.9" x2="97.2" y1="571.5" y2="571.5" stroke="#000" stroke-width="1.7"/>
<line x1="91.9" x2="97.2" y1="552.0" y2="552.0" stroke="#000" stroke-width="1.7"/>
<line x1="91.9" x2="97.2" y1="352.5" y2="352.5" stroke="#000" stroke-width="1.7"/>
<line x1="91.9" x2="97.2" y1="304.8" y2="304.8" stroke="#000" stroke-width="1.7"/>
<line x1="91.9" x2="97.2" y1="237.6" y2="237.6" stroke="#000" stroke-width="1.7"/>
<line x1="91.9" x2="97.2" y1="212.1" y2="212.1" stroke="#000" stroke-width="1.7"/>
<line x1="91.9" x2="97.2" y1="190.0" y2="190.0" stroke="#000" stroke-width="1.7"/>
<line x1="91.9" x2="97.2" y1="170.5" y2="170.5" stroke="#000" stroke-width="1.7"/>
<text x="527.5" y="650" font-size="36.1" text-anchor="middle">Orbital Period (d)</text>
<text transform="translate(28,461) rotate(-90)" font-size="36.4">Planet Radius (R<tspan dy="4.8" dx="5" font-size="27.5">⊕</tspan><tspan dy="-4.8" dx="5">)</tspan></text>
</svg></body></html>
